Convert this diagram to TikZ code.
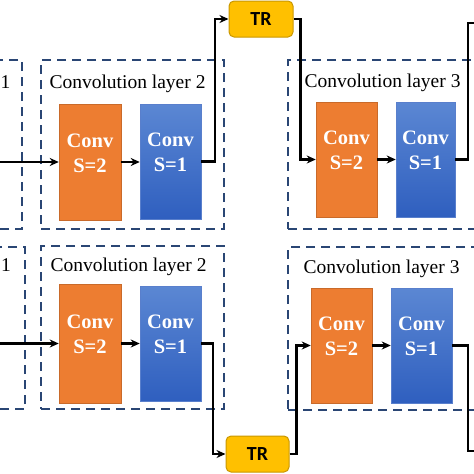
\documentclass[tikz,border=0pt]{standalone}
\usepackage{fontspec}
\setmainfont{Liberation Serif}
\newfontfamily\trfont{Carlito}
\usetikzlibrary{arrows.meta,calc}
\definecolor{dashc}{HTML}{2A4674}
\definecolor{convor}{HTML}{ED7D31}
\definecolor{blueT}{HTML}{5B87D3}
\definecolor{blueB}{HTML}{2F5FBF}
\definecolor{trfill}{HTML}{FFC000}
\definecolor{trdraw}{HTML}{C99700}
\begin{document}
\begin{tikzpicture}[x=1pt,y=-1pt,
  layerbox/.style={rectangle, draw=dashc, line width=2.6pt, dash pattern=on 9pt off 6pt, inner sep=0pt},
  orbox/.style={rectangle, fill=convor, draw=convor!85!black, line width=0.5pt, inner sep=0pt},
  blbox/.style={rectangle, top color=blueT, bottom color=blueB, draw=blueB!80!white, line width=0.5pt, inner sep=0pt},
  trbox/.style={rectangle, fill=trfill, draw=trdraw, line width=1pt, rounded corners=5pt, inner sep=0pt,
    font=\trfont\bfseries\fontsize{20}{24}\selectfont},
  convtxt/.style={text=white, font=\bfseries\fontsize{20.5}{25}\selectfont, align=center, inner sep=0pt},
  ltitle/.style={font=\fontsize{19.5}{23}\selectfont, anchor=base, inner sep=0pt},
  wire/.style={line width=2.3pt},
  arr/.style={line width=2.3pt, -{Stealth[length=9pt,width=8pt]}}]
\useasboundingbox (0,0) rectangle (474,474);
\clip (0,0) rectangle (474,474);

% ---------- top row ----------
\node[layerbox, minimum width=82pt, minimum height=169pt] (l1a) at (-19,144.5) {};
\node[layerbox, minimum width=183pt, minimum height=169pt] (l2a) at (132.5,144.5) {};
\node[layerbox, minimum width=202pt, minimum height=169pt] (l3a) at (389,144.5) {};
\node[ltitle, anchor=base west] (t1a) at (0.5,88) {1};
\node[ltitle] (t2a) at (127.5,88) {Convolution layer 2};
\node[ltitle] (t3a) at (382.5,87) {Convolution layer 3};

\node[orbox, minimum width=62pt, minimum height=116pt] (o2a) at (90,162) {};
\node[blbox, minimum width=61pt, minimum height=115pt] (b2a) at (170.5,161.5) {};
\node[orbox, minimum width=61pt, minimum height=115pt] (o3a) at (346.5,159.5) {};
\node[blbox, minimum width=59pt, minimum height=115pt] (b3a) at (425.5,159.5) {};
\node[convtxt] (o2at) at ([yshift=9pt]o2a.center) {Conv\\S=2};
\node[convtxt] (b2at) at ([yshift=9pt]b2a.center) {Conv\\S=1};
\node[convtxt] (o3at) at ([yshift=9pt]o3a.center) {Conv\\S=2};
\node[convtxt] (b3at) at ([yshift=9pt]b3a.center) {Conv\\S=1};

\node[trbox, minimum width=64pt, minimum height=36pt] (tra) at (261,19) {TR};

\coordinate (ina) at (-10,160);
\coordinate (kouta) at (468,23);
\coordinate (outa) at (485,23);
\draw[arr] (o2a.west -| ina) -- (o2a.west);
\draw[arr] (o2a.east) -- (o2a.east -| b2a.west);
\draw[arr] (b2a.east) -- ++(14,0) |- (tra.west);
\draw[arr] (tra.east) -- ++(7,0) |- (o3a.west);
\draw[arr] (o3a.east) -- (b3a.west);
\draw[wire] (b3a.east) -| (kouta) -- (outa);

% ---------- bottom row ----------
\node[layerbox, minimum width=85pt, minimum height=162pt] (l1b) at (-17.5,328) {};
\node[layerbox, minimum width=183pt, minimum height=163pt] (l2b) at (132.5,327.5) {};
\node[layerbox, minimum width=202pt, minimum height=163pt] (l3b) at (389,328.5) {};
\node[ltitle, anchor=base west] (t1b) at (1,271) {1};
\node[ltitle] (t2b) at (128.5,271) {Convolution layer 2};
\node[ltitle] (t3b) at (381.5,273) {Convolution layer 3};

\node[orbox, minimum width=62pt, minimum height=119pt] (o2b) at (90,343.5) {};
\node[blbox, minimum width=61pt, minimum height=115pt] (b2b) at (170.5,343.5) {};
\node[orbox, minimum width=61pt, minimum height=115pt] (o3b) at (341.5,345.5) {};
\node[blbox, minimum width=61pt, minimum height=115pt] (b3b) at (421.5,345.5) {};
\node[convtxt] (o2bt) at ([yshift=9pt]o2b.center) {Conv\\S=2};
\node[convtxt] (b2bt) at ([yshift=9pt]b2b.center) {Conv\\S=1};
\node[convtxt] (o3bt) at ([yshift=9pt]o3b.center) {Conv\\S=2};
\node[convtxt] (b3bt) at ([yshift=9pt]b3b.center) {Conv\\S=1};

\node[trbox, minimum width=63pt, minimum height=36pt] (trb) at (257.5,454) {TR};

\coordinate (inb) at (-10,343.5);
\coordinate (koutb) at (468,451);
\coordinate (outb) at (485,451);
\draw[arr] (o2b.west -| inb) -- (o2b.west);
\draw[arr] (o2b.east) -- (b2b.west);
\draw[arr] (b2b.east) -- ++(12,0) |- (trb.west);
\draw[arr] (trb.east) -- ++(7,0) |- (o3b.west);
\draw[arr] (o3b.east) -- (b3b.west);
\draw[wire] (b3b.east) -| (koutb) -- (outb);
\end{tikzpicture}
\end{document}
